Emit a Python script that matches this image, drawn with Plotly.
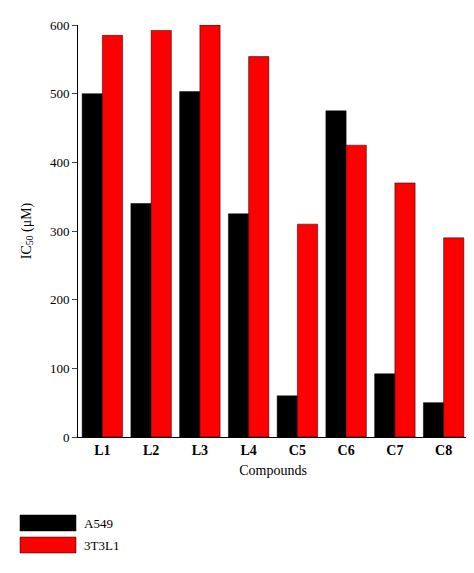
import plotly.graph_objects as go

categories = ["L1", "L2", "L3", "L4", "C5", "C6", "C7", "C8"]
a549 = [500, 340, 503, 325, 60, 475, 92, 50]
t3l1 = [585, 592, 600, 554, 310, 425, 370, 290]
series_names = ["A549", "3T3L1"]
colors = ["#000000", "#ff0000"]

fig = go.Figure()
for name, vals, c in zip(series_names, [a549, t3l1], colors):
    fig.add_bar(x=categories, y=vals, name=name, marker=dict(color=c, line=dict(color="#000", width=0.5)))

OFF = 8  # page body margin
W, H = 390, 412
L, T = 78 - OFF, 25 - OFF
def px(x): return (x - OFF - L) / W
def py(y): return (T + H - (y - OFF)) / H

for i, (name, c) in enumerate(zip(series_names, colors)):
    y0 = 515 + i * 22
    fig.add_shape(type="rect", xref="paper", yref="paper",
                  x0=px(20), x1=px(76), y0=py(y0 + 16), y1=py(y0),
                  fillcolor=c, line=dict(color="#000", width=0.5))
    fig.add_annotation(xref="paper", yref="paper", x=px(82), y=py(y0 + 8),
                       text=name, showarrow=False, xanchor="left", yanchor="middle",
                       font=dict(size=13, color="#000"))

fig.update_layout(
    width=L + W + 4, height=573 - OFF, margin=dict(l=L, r=4, t=T, b=573 - OFF - T - H),
    paper_bgcolor="white", plot_bgcolor="white", showlegend=False,
    barmode="group", bargap=0.17, bargroupgap=0,
    font=dict(family="Liberation Serif", size=13, color="#000"),
)
fig.update_xaxes(showline=True, linecolor="#000", linewidth=1, ticks="",
                 tickfont=dict(size=14, family="Liberation Serif", weight="bold"),
                 title=dict(text="Compounds", font=dict(size=14), standoff=8))
fig.update_yaxes(range=[0, 600], dtick=100, showline=True, linecolor="#000", linewidth=1,
                 ticks="outside", ticklen=5, showgrid=False, zeroline=False,
                 title=dict(text="IC<sub>50</sub> (μM)", font=dict(size=14)))
fig.write_html("out.html")
